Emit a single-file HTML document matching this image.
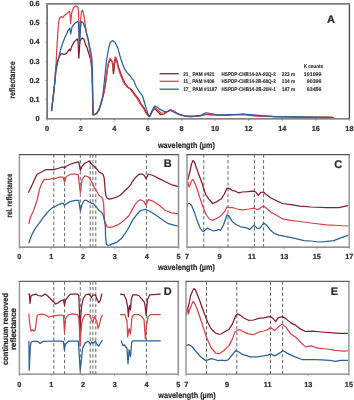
<!DOCTYPE html>
<html><head><meta charset="utf-8"><style>
html,body{margin:0;padding:0;background:#fff;}
svg{display:block;will-change:transform;}
text{font-family:"Liberation Sans",sans-serif;text-rendering:geometricPrecision;}
</style></head><body>
<svg width="354" height="400" viewBox="0 0 354 400">
<rect width="354" height="400" fill="#fff"/>
<text x="39.6" y="121.0" font-size="7.3" text-anchor="end" font-weight="bold" fill="#2e2e2e" stroke="#2e2e2e" stroke-width="0.22">0</text>
<line x1="44.6" y1="118.90" x2="46.4" y2="118.90" stroke="#bbb" stroke-width="0.8"/>
<text x="39.6" y="101.83333333333333" font-size="7.3" text-anchor="end" font-weight="bold" fill="#2e2e2e" stroke="#2e2e2e" stroke-width="0.22">0.1</text>
<line x1="44.6" y1="99.73" x2="46.4" y2="99.73" stroke="#bbb" stroke-width="0.8"/>
<text x="39.6" y="82.66666666666666" font-size="7.3" text-anchor="end" font-weight="bold" fill="#2e2e2e" stroke="#2e2e2e" stroke-width="0.22">0.2</text>
<line x1="44.6" y1="80.57" x2="46.4" y2="80.57" stroke="#bbb" stroke-width="0.8"/>
<text x="39.6" y="63.50000000000001" font-size="7.3" text-anchor="end" font-weight="bold" fill="#2e2e2e" stroke="#2e2e2e" stroke-width="0.22">0.3</text>
<line x1="44.6" y1="61.40" x2="46.4" y2="61.40" stroke="#bbb" stroke-width="0.8"/>
<text x="39.6" y="44.333333333333336" font-size="7.3" text-anchor="end" font-weight="bold" fill="#2e2e2e" stroke="#2e2e2e" stroke-width="0.22">0.4</text>
<line x1="44.6" y1="42.23" x2="46.4" y2="42.23" stroke="#bbb" stroke-width="0.8"/>
<text x="39.6" y="25.16666666666668" font-size="7.3" text-anchor="end" font-weight="bold" fill="#2e2e2e" stroke="#2e2e2e" stroke-width="0.22">0.5</text>
<line x1="44.6" y1="23.07" x2="46.4" y2="23.07" stroke="#bbb" stroke-width="0.8"/>
<text x="39.6" y="6.000000000000005" font-size="7.3" text-anchor="end" font-weight="bold" fill="#2e2e2e" stroke="#2e2e2e" stroke-width="0.22">0.6</text>
<line x1="44.6" y1="3.90" x2="46.4" y2="3.90" stroke="#bbb" stroke-width="0.8"/>
<text x="47.1" y="131.0" font-size="7.3" text-anchor="middle" font-weight="bold" fill="#2e2e2e" stroke="#2e2e2e" stroke-width="0.22">0</text>
<text x="80.68888888888888" y="131.0" font-size="7.3" text-anchor="middle" font-weight="bold" fill="#2e2e2e" stroke="#2e2e2e" stroke-width="0.22">2</text>
<text x="114.27777777777777" y="131.0" font-size="7.3" text-anchor="middle" font-weight="bold" fill="#2e2e2e" stroke="#2e2e2e" stroke-width="0.22">4</text>
<text x="147.86666666666665" y="131.0" font-size="7.3" text-anchor="middle" font-weight="bold" fill="#2e2e2e" stroke="#2e2e2e" stroke-width="0.22">6</text>
<text x="181.45555555555552" y="131.0" font-size="7.3" text-anchor="middle" font-weight="bold" fill="#2e2e2e" stroke="#2e2e2e" stroke-width="0.22">8</text>
<text x="215.04444444444442" y="131.0" font-size="7.3" text-anchor="middle" font-weight="bold" fill="#2e2e2e" stroke="#2e2e2e" stroke-width="0.22">10</text>
<text x="248.6333333333333" y="131.0" font-size="7.3" text-anchor="middle" font-weight="bold" fill="#2e2e2e" stroke="#2e2e2e" stroke-width="0.22">12</text>
<text x="282.2222222222222" y="131.0" font-size="7.3" text-anchor="middle" font-weight="bold" fill="#2e2e2e" stroke="#2e2e2e" stroke-width="0.22">14</text>
<text x="315.8111111111111" y="131.0" font-size="7.3" text-anchor="middle" font-weight="bold" fill="#2e2e2e" stroke="#2e2e2e" stroke-width="0.22">16</text>
<text x="349.4" y="131.0" font-size="7.3" text-anchor="middle" font-weight="bold" fill="#2e2e2e" stroke="#2e2e2e" stroke-width="0.22">18</text>
<text x="186.4" y="147.8" font-size="8.2" text-anchor="middle" font-weight="bold" fill="#2e2e2e" stroke="#2e2e2e" stroke-width="0.22" textLength="57.0" lengthAdjust="spacingAndGlyphs">wavelength (µm)</text>
<text x="14.6" y="80.0" font-size="8" text-anchor="middle" font-weight="bold" fill="#2e2e2e" stroke="#2e2e2e" stroke-width="0.22" textLength="37.5" lengthAdjust="spacingAndGlyphs" transform="rotate(-90 14.6 80.0)">reflectance</text>
<text x="331.0" y="23.0" font-size="11" text-anchor="middle" font-weight="bold" fill="#2e2e2e" stroke="#2e2e2e" stroke-width="0.22">A</text>
<line x1="53.8" y1="154.5" x2="53.8" y2="247.1" stroke="#5e5e5e" stroke-width="0.95" stroke-dasharray="3.3,2.3"/>
<line x1="64.6" y1="154.5" x2="64.6" y2="247.1" stroke="#5e5e5e" stroke-width="0.95" stroke-dasharray="3.3,2.3"/>
<line x1="80.3" y1="154.5" x2="80.3" y2="247.1" stroke="#5e5e5e" stroke-width="0.95" stroke-dasharray="3.3,2.3"/>
<line x1="90.2" y1="154.5" x2="90.2" y2="247.1" stroke="#5e5e5e" stroke-width="0.95" stroke-dasharray="3.3,2.3"/>
<line x1="92.9" y1="154.5" x2="92.9" y2="247.1" stroke="#5e5e5e" stroke-width="0.95" stroke-dasharray="3.3,2.3"/>
<line x1="95.8" y1="154.5" x2="95.8" y2="247.1" stroke="#5e5e5e" stroke-width="0.95" stroke-dasharray="3.3,2.3"/>
<line x1="146.4" y1="154.5" x2="146.4" y2="247.1" stroke="#5e5e5e" stroke-width="0.95" stroke-dasharray="3.3,2.3"/>
<line x1="203.8" y1="154.5" x2="203.8" y2="247.1" stroke="#5e5e5e" stroke-width="0.95" stroke-dasharray="3.3,2.3"/>
<line x1="228.0" y1="154.5" x2="228.0" y2="247.1" stroke="#5e5e5e" stroke-width="0.95" stroke-dasharray="3.3,2.3"/>
<line x1="254.4" y1="154.5" x2="254.4" y2="247.1" stroke="#5e5e5e" stroke-width="0.95" stroke-dasharray="3.3,2.3"/>
<line x1="263.6" y1="154.5" x2="263.6" y2="247.1" stroke="#5e5e5e" stroke-width="0.95" stroke-dasharray="3.3,2.3"/>
<line x1="53.8" y1="281.4" x2="53.8" y2="374.0" stroke="#5e5e5e" stroke-width="0.95" stroke-dasharray="3.3,2.3"/>
<line x1="64.6" y1="281.4" x2="64.6" y2="374.0" stroke="#5e5e5e" stroke-width="0.95" stroke-dasharray="3.3,2.3"/>
<line x1="80.3" y1="281.4" x2="80.3" y2="374.0" stroke="#5e5e5e" stroke-width="0.95" stroke-dasharray="3.3,2.3"/>
<line x1="90.2" y1="281.4" x2="90.2" y2="374.0" stroke="#5e5e5e" stroke-width="0.95" stroke-dasharray="3.3,2.3"/>
<line x1="92.9" y1="281.4" x2="92.9" y2="374.0" stroke="#5e5e5e" stroke-width="0.95" stroke-dasharray="3.3,2.3"/>
<line x1="95.8" y1="281.4" x2="95.8" y2="374.0" stroke="#5e5e5e" stroke-width="0.95" stroke-dasharray="3.3,2.3"/>
<line x1="146.4" y1="281.4" x2="146.4" y2="374.0" stroke="#5e5e5e" stroke-width="0.95" stroke-dasharray="3.3,2.3"/>
<line x1="206.5" y1="281.4" x2="206.5" y2="374.0" stroke="#5e5e5e" stroke-width="0.95" stroke-dasharray="3.3,2.3"/>
<line x1="236.8" y1="281.4" x2="236.8" y2="374.0" stroke="#5e5e5e" stroke-width="0.95" stroke-dasharray="3.3,2.3"/>
<line x1="270.5" y1="281.4" x2="270.5" y2="374.0" stroke="#5e5e5e" stroke-width="0.95" stroke-dasharray="3.3,2.3"/>
<line x1="282.6" y1="281.4" x2="282.6" y2="374.0" stroke="#5e5e5e" stroke-width="0.95" stroke-dasharray="3.3,2.3"/>
<polyline points="51.6,110.5 53.3,96.0 55.0,80.0 55.6,70.0 56.7,62.8 59.6,56.0 61.3,53.7 64.1,54.3 66.3,53.7 68.6,50.3 69.7,49.2 70.3,50.9 72.0,45.8 74.2,41.9 76.5,39.6 77.6,39.0 78.3,45.0 78.8,58.2 79.4,50.0 79.9,41.3 82.2,37.9 83.9,39.0 85.5,44.7 86.8,47.0 88.5,52.6 90.2,58.2 91.3,63.9 91.9,70.0 92.4,85.0 92.7,100.0 93.0,114.7 94.3,114.7 96.6,113.4 98.8,110.2 100.6,104.8 102.4,98.5 104.2,91.3 105.6,83.0 106.5,76.0 107.5,68.0 109.0,61.5 110.5,59.5 112.0,61.5 112.7,65.0 113.4,73.7 114.0,70.0 114.5,64.7 115.6,59.0 116.8,60.2 118.5,67.0 121.3,74.9 124.7,82.8 128.1,87.3 131.5,89.5 135.2,94.7 138.6,99.2 140.8,103.7 144.2,108.2 147.0,113.9 148.7,116.2 150.4,115.0 152.7,110.5 154.4,108.6 157.2,111.1 160.7,114.7 164.2,114.0 167.1,111.8 170.6,110.1 173.4,111.1 178.4,114.0 185.4,116.2 190.5,116.7 197.3,116.2 202.4,115.3 205.8,114.5 216.0,115.0 230.0,115.0 243.8,114.3 250.0,115.5 275.0,116.7 333.0,117.5" fill="none" stroke="#801f2a" stroke-width="1.25" stroke-linejoin="round" stroke-linecap="round"/>
<polyline points="51.6,110.5 53.3,96.0 55.0,80.0 55.6,70.0 56.2,62.8 56.7,50.0 57.4,40.0 58.0,30.0 58.7,22.5 59.6,18.0 60.6,16.8 61.5,16.7 62.7,17.3 64.0,16.0 65.7,14.6 67.5,13.0 68.8,11.6 69.6,11.5 70.2,16.0 70.6,23.8 71.2,17.0 71.9,12.0 73.6,7.4 75.4,5.9 77.1,6.8 78.0,7.5 78.6,12.0 79.0,30.0 79.3,40.0 79.8,34.0 80.5,20.0 81.5,12.0 82.4,10.1 83.2,12.0 84.1,16.9 85.2,24.7 86.4,32.6 87.5,37.0 88.5,40.0 90.2,55.0 91.3,63.0 92.0,70.0 92.4,85.0 92.7,100.0 93.0,114.7 94.3,114.7 96.6,113.4 98.8,110.2 100.6,104.8 102.4,98.5 104.2,91.3 105.6,83.0 106.5,76.0 107.5,68.0 109.0,61.0 110.0,58.5 111.7,60.5 112.5,62.0 113.4,68.0 114.0,64.0 115.1,57.0 116.5,58.5 117.5,65.5 120.3,74.6 123.7,82.5 127.1,87.0 130.5,89.3 134.2,94.5 137.6,99.0 139.8,103.4 143.2,108.0 146.2,113.5 148.7,116.0 150.4,114.5 152.7,110.0 154.9,107.5 157.2,109.5 160.7,112.8 164.2,113.0 167.0,111.5 170.2,109.8 173.6,111.1 178.6,114.5 185.4,116.2 190.5,116.7 197.3,116.2 202.4,115.3 205.8,114.0 210.8,114.8 216.0,115.0 220.0,115.3 230.0,115.0 243.8,114.3 250.0,115.5 260.0,116.3 275.0,116.7 290.0,117.0 310.0,117.3 325.0,117.0 333.0,117.3" fill="none" stroke="#d4424c" stroke-width="1.25" stroke-linejoin="round" stroke-linecap="round"/>
<polyline points="51.6,110.5 53.3,96.0 55.0,80.0 56.2,70.0 58.4,59.4 60.7,49.2 63.0,42.4 65.2,36.8 67.0,33.5 68.0,30.5 69.8,28.2 70.7,33.9 72.0,27.1 74.9,23.2 77.4,21.4 78.5,22.5 79.0,33.0 79.4,45.0 79.9,40.0 80.5,28.0 81.3,21.4 83.0,22.5 85.2,28.1 87.5,37.1 89.2,45.0 90.7,51.0 91.9,58.2 92.4,70.0 92.6,85.0 92.8,100.0 93.0,114.7 94.3,114.7 96.6,113.4 98.8,110.2 100.6,104.8 102.4,98.5 103.5,90.0 104.5,80.0 105.5,70.0 106.5,61.0 107.5,54.5 108.8,47.5 110.3,42.5 112.5,40.6 115.0,42.4 117.9,48.1 120.2,56.8 122.4,63.6 124.7,69.2 127.0,72.6 130.3,76.0 132.6,79.4 133.5,80.0 136.3,86.8 139.7,92.4 142.5,95.8 144.2,101.5 146.5,109.4 148.7,116.2 149.9,116.7 152.1,110.5 154.9,106.0 157.2,107.1 160.0,109.4 163.4,111.1 166.8,112.0 170.2,110.3 173.6,112.0 177.0,113.6 182.0,115.3 187.1,116.2 193.9,116.2 200.7,115.3 205.8,112.8 210.8,113.6 216.0,114.5 220.0,115.0 243.8,114.0 275.0,116.7 333.0,117.3" fill="none" stroke="#2a6196" stroke-width="1.25" stroke-linejoin="round" stroke-linecap="round"/>
<polyline points="28.6,192.3 31.4,186.6 34.3,179.9 37.1,174.2 41.6,172.0 46.1,169.5 49.5,169.5 54.0,169.7 59.5,168.0 62.9,166.9 64.6,168.0 66.3,166.3 70.8,164.0 75.3,162.7 78.7,161.8 80.4,170.3 82.1,166.3 84.4,163.5 87.8,161.8 89.1,161.0 90.8,163.6 93.6,165.8 97.0,169.2 99.0,172.0 101.3,173.1 103.0,174.2 104.1,177.6 104.7,184.4 105.3,192.0 106.0,196.0 107.0,198.0 109.2,199.1 112.6,198.3 117.0,197.0 120.5,195.0 122.6,193.0 125.0,190.5 128.1,187.8 130.4,185.2 132.3,181.8 135.3,177.7 138.8,174.4 142.1,174.0 144.4,175.5 146.0,178.6 148.3,174.0 153.0,175.5 159.2,178.6 165.4,181.7 171.6,184.8 177.8,186.4" fill="none" stroke="#801f2a" stroke-width="1.25" stroke-linejoin="round" stroke-linecap="round"/>
<polyline points="28.9,223.5 30.5,217.0 33.7,210.3 37.1,200.2 39.3,190.0 41.6,183.8 44.4,179.3 48.4,179.3 52.9,178.7 55.0,178.7 59.5,177.0 62.9,177.0 64.6,182.1 66.3,176.5 70.8,174.2 75.3,174.2 78.2,174.8 80.4,193.0 82.1,179.3 84.9,175.9 87.8,176.5 90.0,178.7 92.3,183.2 94.5,187.8 96.8,191.5 99.0,195.2 101.3,196.9 102.4,198.0 103.6,203.1 104.1,213.2 104.5,220.0 105.3,222.5 107.0,226.9 110.3,227.4 112.6,226.8 118.2,224.7 123.9,220.4 127.0,217.5 129.5,214.8 132.4,209.1 134.5,205.5 137.4,201.5 140.5,199.7 143.6,201.2 146.0,205.1 148.3,199.7 153.0,201.2 159.2,205.3 165.4,210.5 171.6,212.9 177.8,213.8" fill="none" stroke="#d4424c" stroke-width="1.25" stroke-linejoin="round" stroke-linecap="round"/>
<polyline points="28.9,243.0 30.3,238.7 32.6,233.1 36.0,227.4 39.9,222.3 42.7,218.2 47.2,212.6 51.8,208.1 55.0,206.5 59.5,204.2 62.9,203.1 64.6,205.3 66.3,203.6 70.8,201.4 75.3,200.3 78.7,200.3 80.4,211.0 82.1,204.2 84.4,200.3 86.6,200.3 88.9,202.0 90.0,202.0 91.5,203.5 93.4,203.6 96.8,207.6 99.0,210.4 101.3,212.1 103.0,214.4 104.1,218.9 104.7,222.0 105.3,226.3 105.6,237.6 106.4,244.4 108.1,245.5 110.3,244.9 111.2,244.4 116.8,242.3 121.1,238.8 125.3,233.1 127.0,230.5 128.8,227.5 132.4,220.4 136.6,214.8 140.5,210.5 145.2,209.3 149.8,211.3 156.1,215.2 162.3,219.8 168.5,223.7 174.7,225.3 177.8,226.0" fill="none" stroke="#2a6196" stroke-width="1.25" stroke-linejoin="round" stroke-linecap="round"/>
<polyline points="187.5,180.0 188.5,177.0 190.0,171.0 191.5,164.0 193.0,160.5 194.5,162.0 196.5,168.0 199.0,175.0 202.0,183.0 204.5,191.0 205.8,194.5 208.6,198.8 212.8,203.5 217.1,201.6 221.3,198.8 224.1,194.5 227.0,188.2 229.8,188.9 232.0,190.3 235.4,191.2 238.8,192.9 242.2,192.0 247.3,191.7 253.2,191.2 255.7,192.0 258.3,195.4 260.8,192.4 263.4,192.0 266.5,194.8 268.0,195.8 270.5,197.8 275.6,200.3 282.4,203.5 290.8,204.6 300.0,206.2 310.9,207.0 326.2,207.7 338.9,207.7 347.8,205.7" fill="none" stroke="#801f2a" stroke-width="1.25" stroke-linejoin="round" stroke-linecap="round"/>
<polyline points="187.5,185.0 188.0,182.0 189.0,187.0 190.0,185.0 191.5,181.0 192.5,179.5 194.0,181.0 196.0,186.0 198.0,192.0 200.1,198.5 203.0,207.0 205.8,214.0 209.3,219.0 212.8,220.4 217.1,218.2 221.3,215.4 224.8,211.2 227.0,207.0 229.8,207.7 232.0,207.3 237.1,209.0 242.2,209.8 249.0,209.0 254.0,208.1 257.4,209.8 263.4,205.9 267.1,208.8 270.5,212.0 275.6,214.7 282.4,218.8 290.8,220.3 300.0,221.5 310.9,223.0 326.2,224.8 338.9,225.5 347.8,226.0" fill="none" stroke="#d4424c" stroke-width="1.25" stroke-linejoin="round" stroke-linecap="round"/>
<polyline points="187.4,206.0 187.8,204.0 189.5,203.4 191.6,205.5 194.5,212.6 197.3,221.1 200.1,228.1 203.0,231.7 205.1,230.3 207.2,228.1 210.0,229.5 213.5,231.0 216.4,230.3 218.5,229.5 220.6,230.3 223.4,225.3 227.0,214.7 229.1,216.1 231.9,221.1 235.4,224.2 240.5,226.8 245.6,227.6 249.8,229.3 254.0,225.1 257.4,228.5 260.0,228.1 263.7,223.0 266.3,224.9 269.7,229.2 273.9,233.4 279.0,235.1 287.5,236.8 296.0,238.6 304.0,240.6 311.0,241.0 318.1,242.0 325.2,241.6 333.7,240.6 340.7,237.8 347.8,235.4" fill="none" stroke="#2a6196" stroke-width="1.25" stroke-linejoin="round" stroke-linecap="round"/>
<polyline points="28.7,294.1 29.4,294.0 30.0,303.5 30.6,298.0 31.2,295.5 33.1,294.8 36.0,294.1 38.1,295.5 41.6,296.2 45.1,294.1 47.2,295.5 51.5,299.8 55.7,304.0 58.5,302.6 61.4,300.5 63.5,299.8 64.5,305.4 65.6,299.8 68.5,296.2 70.2,294.2 77.6,294.2 78.8,295.3 79.4,312.0 79.9,336.0 80.5,320.0 81.6,306.0 83.3,298.4 86.1,294.5 89.0,294.1 90.4,295.5 91.4,297.7 92.5,295.5 95.3,294.8 96.7,298.4 98.8,302.6 100.3,300.5 101.7,294.1" fill="none" stroke="#801f2a" stroke-width="1.25" stroke-linejoin="round" stroke-linecap="round"/>
<polyline points="120.6,294.1 124.2,294.8 126.3,299.8 127.7,306.8 128.4,316.7 129.1,308.2 129.8,305.4 130.5,310.0 131.2,299.8 132.7,294.8 136.2,294.8 139.0,295.5 141.1,298.4 142.5,299.8 144.7,302.6 146.1,315.3 147.5,299.8 149.6,294.8 160.2,294.1" fill="none" stroke="#801f2a" stroke-width="1.25" stroke-linejoin="round" stroke-linecap="round"/>
<polyline points="28.9,314.2 29.6,322.7 31.0,331.2 32.4,329.8 33.8,331.2 35.2,329.8 36.7,318.5 37.4,315.0 41.6,314.2 45.8,315.0 48.7,317.1 51.5,316.4 55.7,315.6 61.4,315.0 63.5,315.6 64.5,332.6 65.6,318.5 68.5,314.6 72.7,313.9 77.6,314.6 78.8,318.0 79.5,330.0 80.0,346.0 80.8,334.0 81.8,323.0 83.0,318.1 85.4,314.6 89.7,314.6 91.4,319.5 92.8,322.4 94.6,316.7 96.7,321.0 98.1,328.5 98.8,326.6 101.0,318.1 102.4,315.3" fill="none" stroke="#d4424c" stroke-width="1.25" stroke-linejoin="round" stroke-linecap="round"/>
<polyline points="120.6,314.6 124.9,314.6 127.0,321.0 127.7,337.0 129.1,328.5 130.5,334.1 132.0,316.7 134.1,314.6 139.0,314.6 141.8,316.7 144.0,319.5 145.4,339.0 146.5,325.0 148.2,316.7 150.3,314.6 160.2,314.6" fill="none" stroke="#d4424c" stroke-width="1.25" stroke-linejoin="round" stroke-linecap="round"/>
<polyline points="28.9,341.3 29.2,370.3 30.3,347.0 31.0,342.7 32.4,341.3 37.4,341.3 40.2,343.4 43.0,341.3 54.3,341.0 61.4,341.1 63.5,341.9 64.3,349.8 65.6,344.0 68.5,341.2 78.4,341.2 80.2,371.0 82.6,348.2 85.4,342.6 88.2,341.2 90.4,344.0 91.8,341.9 93.2,343.3 95.3,341.2 97.4,344.7 98.8,346.1 100.3,343.3 102.1,340.5" fill="none" stroke="#2a6196" stroke-width="1.25" stroke-linejoin="round" stroke-linecap="round"/>
<polyline points="121.4,341.2 122.8,345.4 124.2,344.7 125.6,346.8 127.0,348.2 128.0,363.8 129.1,349.7 130.5,356.7 131.7,342.6 132.7,340.9 160.2,340.9" fill="none" stroke="#2a6196" stroke-width="1.25" stroke-linejoin="round" stroke-linecap="round"/>
<polyline points="186.5,313.0 187.5,309.0 189.0,304.0 190.5,296.0 192.5,291.0 194.0,288.5 195.5,290.0 197.5,295.0 200.0,301.5 203.0,310.0 206.0,318.0 208.0,322.8 210.4,327.5 212.5,330.3 215.5,333.0 218.5,334.3 221.0,334.0 224.8,331.8 229.1,329.2 232.5,323.8 235.8,315.6 237.5,313.9 240.9,315.6 243.4,317.8 248.5,320.3 253.6,320.0 258.6,318.3 263.7,317.8 268.0,316.9 270.5,316.6 273.1,318.6 275.6,321.7 278.1,317.8 282.4,316.6 285.8,318.6 290.8,322.9 295.9,325.4 300.3,328.9 305.5,331.5 312.5,331.2 321.3,332.0 330.0,332.7 338.8,333.3 347.5,333.3" fill="none" stroke="#801f2a" stroke-width="1.25" stroke-linejoin="round" stroke-linecap="round"/>
<polyline points="186.5,315.0 187.0,310.0 188.0,309.0 188.5,314.0 189.5,310.0 191.5,305.0 193.0,301.5 194.5,303.0 196.5,307.5 198.5,313.0 200.5,319.0 203.6,328.5 207.0,338.6 211.3,348.0 215.5,353.0 218.9,353.9 224.0,350.5 229.1,345.4 232.5,338.6 235.0,331.9 237.5,330.2 240.0,329.7 244.2,332.2 248.5,333.9 253.6,334.7 258.6,332.2 263.7,331.0 268.0,329.7 270.5,327.6 274.7,330.5 278.1,327.1 282.4,324.1 285.8,327.1 290.8,333.9 295.9,337.3 300.3,342.0 305.5,346.9 310.8,345.9 317.8,348.2 326.5,349.0 335.3,350.4 344.0,351.1 347.5,350.8" fill="none" stroke="#d4424c" stroke-width="1.25" stroke-linejoin="round" stroke-linecap="round"/>
<polyline points="186.5,345.5 188.4,344.6 191.8,346.3 195.2,350.5 200.3,356.4 205.3,360.3 207.9,359.8 211.3,358.6 214.7,359.5 218.1,360.7 221.4,360.2 224.8,360.7 228.2,359.8 231.6,355.6 235.8,350.5 239.2,352.2 242.6,354.7 245.1,355.1 250.2,356.8 256.9,356.8 263.7,355.9 268.0,355.1 270.5,353.9 274.7,355.9 279.0,353.4 283.2,350.8 287.5,353.4 292.5,355.9 295.0,356.9 302.0,359.5 312.5,359.5 321.3,359.9 330.0,360.4 335.3,361.3 340.5,360.4 347.5,360.4" fill="none" stroke="#2a6196" stroke-width="1.25" stroke-linejoin="round" stroke-linecap="round"/>
<line x1="159.6" y1="73.7" x2="178.7" y2="73.7" stroke="#801f2a" stroke-width="1.3"/>
<line x1="159.6" y1="81.3" x2="178.7" y2="81.3" stroke="#d4424c" stroke-width="1.3"/>
<line x1="159.6" y1="89.2" x2="178.7" y2="89.2" stroke="#2a6196" stroke-width="1.3"/>
<text x="183.2" y="75.60000000000001" font-size="5.3" text-anchor="start" font-weight="bold" fill="#2e2e2e" stroke="#2e2e2e" stroke-width="0.12" textLength="31.3" lengthAdjust="spacingAndGlyphs">21_ PAM #421</text>
<text x="221.5" y="75.60000000000001" font-size="5.3" text-anchor="start" font-weight="bold" fill="#2e2e2e" stroke="#2e2e2e" stroke-width="0.12" textLength="54.3" lengthAdjust="spacingAndGlyphs">HSPDP-CHB14-2A-93Q-2</text>
<text x="281.8" y="75.60000000000001" font-size="5.3" text-anchor="start" font-weight="bold" fill="#2e2e2e" stroke="#2e2e2e" stroke-width="0.12" textLength="13.4" lengthAdjust="spacingAndGlyphs">223 m</text>
<text x="321.5" y="75.60000000000001" font-size="5.3" text-anchor="end" font-weight="bold" fill="#2e2e2e" stroke="#2e2e2e" stroke-width="0.12">101099</text>
<text x="183.2" y="83.2" font-size="5.3" text-anchor="start" font-weight="bold" fill="#2e2e2e" stroke="#2e2e2e" stroke-width="0.12" textLength="31.3" lengthAdjust="spacingAndGlyphs">11_ PAM #406</text>
<text x="221.5" y="83.2" font-size="5.3" text-anchor="start" font-weight="bold" fill="#2e2e2e" stroke="#2e2e2e" stroke-width="0.12" textLength="54.3" lengthAdjust="spacingAndGlyphs">HSPDP-CHB14-2B-68Q-2</text>
<text x="281.8" y="83.2" font-size="5.3" text-anchor="start" font-weight="bold" fill="#2e2e2e" stroke="#2e2e2e" stroke-width="0.12" textLength="13.4" lengthAdjust="spacingAndGlyphs">134 m</text>
<text x="321.5" y="83.2" font-size="5.3" text-anchor="end" font-weight="bold" fill="#2e2e2e" stroke="#2e2e2e" stroke-width="0.12">90396</text>
<text x="183.2" y="90.80000000000001" font-size="5.3" text-anchor="start" font-weight="bold" fill="#2e2e2e" stroke="#2e2e2e" stroke-width="0.12" textLength="34.0" lengthAdjust="spacingAndGlyphs">17_ PAM #1187</text>
<text x="221.5" y="90.80000000000001" font-size="5.3" text-anchor="start" font-weight="bold" fill="#2e2e2e" stroke="#2e2e2e" stroke-width="0.12" textLength="54.3" lengthAdjust="spacingAndGlyphs">HSPDP-CHB14-2B-20H-1</text>
<text x="281.8" y="90.80000000000001" font-size="5.3" text-anchor="start" font-weight="bold" fill="#2e2e2e" stroke="#2e2e2e" stroke-width="0.12" textLength="13.4" lengthAdjust="spacingAndGlyphs">187 m</text>
<text x="321.5" y="90.80000000000001" font-size="5.3" text-anchor="end" font-weight="bold" fill="#2e2e2e" stroke="#2e2e2e" stroke-width="0.12">63456</text>
<text x="313.4" y="67.9" font-size="5.3" text-anchor="middle" font-weight="bold" fill="#2e2e2e" stroke="#2e2e2e" stroke-width="0.12" textLength="19.5" lengthAdjust="spacingAndGlyphs">K counts</text>
<text x="19.4" y="259.0" font-size="7.3" text-anchor="middle" font-weight="bold" fill="#2e2e2e" stroke="#2e2e2e" stroke-width="0.22">0</text>
<text x="51.22" y="259.0" font-size="7.3" text-anchor="middle" font-weight="bold" fill="#2e2e2e" stroke="#2e2e2e" stroke-width="0.22">1</text>
<text x="83.03999999999999" y="259.0" font-size="7.3" text-anchor="middle" font-weight="bold" fill="#2e2e2e" stroke="#2e2e2e" stroke-width="0.22">2</text>
<text x="114.85999999999999" y="259.0" font-size="7.3" text-anchor="middle" font-weight="bold" fill="#2e2e2e" stroke="#2e2e2e" stroke-width="0.22">3</text>
<text x="146.68" y="259.0" font-size="7.3" text-anchor="middle" font-weight="bold" fill="#2e2e2e" stroke="#2e2e2e" stroke-width="0.22">4</text>
<text x="178.5" y="259.0" font-size="7.3" text-anchor="middle" font-weight="bold" fill="#2e2e2e" stroke="#2e2e2e" stroke-width="0.22">5</text>
<text x="187.0" y="259.0" font-size="7.3" text-anchor="middle" font-weight="bold" fill="#2e2e2e" stroke="#2e2e2e" stroke-width="0.22">7</text>
<text x="219.44" y="259.0" font-size="7.3" text-anchor="middle" font-weight="bold" fill="#2e2e2e" stroke="#2e2e2e" stroke-width="0.22">9</text>
<text x="251.88" y="259.0" font-size="7.3" text-anchor="middle" font-weight="bold" fill="#2e2e2e" stroke="#2e2e2e" stroke-width="0.22">11</text>
<text x="284.32" y="259.0" font-size="7.3" text-anchor="middle" font-weight="bold" fill="#2e2e2e" stroke="#2e2e2e" stroke-width="0.22">13</text>
<text x="316.76" y="259.0" font-size="7.3" text-anchor="middle" font-weight="bold" fill="#2e2e2e" stroke="#2e2e2e" stroke-width="0.22">15</text>
<text x="349.2" y="259.0" font-size="7.3" text-anchor="middle" font-weight="bold" fill="#2e2e2e" stroke="#2e2e2e" stroke-width="0.22">17</text>
<text x="186.4" y="269.8" font-size="8.2" text-anchor="middle" font-weight="bold" fill="#2e2e2e" stroke="#2e2e2e" stroke-width="0.22" textLength="57.0" lengthAdjust="spacingAndGlyphs">wavelength (µm)</text>
<text x="12.0" y="195.5" font-size="8" text-anchor="middle" font-weight="bold" fill="#2e2e2e" stroke="#2e2e2e" stroke-width="0.22" textLength="44" lengthAdjust="spacingAndGlyphs" transform="rotate(-90 12.0 195.5)">rel. reflectance</text>
<text x="167.7" y="167.0" font-size="11" text-anchor="middle" font-weight="bold" fill="#2e2e2e" stroke="#2e2e2e" stroke-width="0.22">B</text>
<text x="338.3" y="167.5" font-size="11" text-anchor="middle" font-weight="bold" fill="#2e2e2e" stroke="#2e2e2e" stroke-width="0.22">C</text>
<text x="19.4" y="387.0" font-size="7.3" text-anchor="middle" font-weight="bold" fill="#2e2e2e" stroke="#2e2e2e" stroke-width="0.22">0</text>
<text x="51.18" y="387.0" font-size="7.3" text-anchor="middle" font-weight="bold" fill="#2e2e2e" stroke="#2e2e2e" stroke-width="0.22">1</text>
<text x="82.96000000000001" y="387.0" font-size="7.3" text-anchor="middle" font-weight="bold" fill="#2e2e2e" stroke="#2e2e2e" stroke-width="0.22">2</text>
<text x="114.74000000000001" y="387.0" font-size="7.3" text-anchor="middle" font-weight="bold" fill="#2e2e2e" stroke="#2e2e2e" stroke-width="0.22">3</text>
<text x="146.52" y="387.0" font-size="7.3" text-anchor="middle" font-weight="bold" fill="#2e2e2e" stroke="#2e2e2e" stroke-width="0.22">4</text>
<text x="178.3" y="387.0" font-size="7.3" text-anchor="middle" font-weight="bold" fill="#2e2e2e" stroke="#2e2e2e" stroke-width="0.22">5</text>
<text x="186.3" y="387.0" font-size="7.3" text-anchor="middle" font-weight="bold" fill="#2e2e2e" stroke="#2e2e2e" stroke-width="0.22">7</text>
<text x="226.95" y="387.0" font-size="7.3" text-anchor="middle" font-weight="bold" fill="#2e2e2e" stroke="#2e2e2e" stroke-width="0.22">9</text>
<text x="267.6" y="387.0" font-size="7.3" text-anchor="middle" font-weight="bold" fill="#2e2e2e" stroke="#2e2e2e" stroke-width="0.22">11</text>
<text x="308.25" y="387.0" font-size="7.3" text-anchor="middle" font-weight="bold" fill="#2e2e2e" stroke="#2e2e2e" stroke-width="0.22">13</text>
<text x="348.9" y="387.0" font-size="7.3" text-anchor="middle" font-weight="bold" fill="#2e2e2e" stroke="#2e2e2e" stroke-width="0.22">15</text>
<text x="187.0" y="398.0" font-size="8.2" text-anchor="middle" font-weight="bold" fill="#2e2e2e" stroke="#2e2e2e" stroke-width="0.22" textLength="57.6" lengthAdjust="spacingAndGlyphs">wavelength (µm)</text>
<text x="8.0" y="329.0" font-size="8" text-anchor="middle" font-weight="bold" fill="#2e2e2e" stroke="#2e2e2e" stroke-width="0.22" textLength="72" lengthAdjust="spacingAndGlyphs" transform="rotate(-90 8.0 329.0)">continuum removed</text>
<text x="16.0" y="329.0" font-size="8" text-anchor="middle" font-weight="bold" fill="#2e2e2e" stroke="#2e2e2e" stroke-width="0.22" textLength="42" lengthAdjust="spacingAndGlyphs" transform="rotate(-90 16.0 329.0)">reflectance</text>
<text x="167.7" y="294.5" font-size="11" text-anchor="middle" font-weight="bold" fill="#2e2e2e" stroke="#2e2e2e" stroke-width="0.22">D</text>
<text x="334.4" y="295.2" font-size="11" text-anchor="middle" font-weight="bold" fill="#2e2e2e" stroke="#2e2e2e" stroke-width="0.22">E</text>
<line x1="47.1" y1="118.9" x2="47.1" y2="121.10000000000001" stroke="#999" stroke-width="0.8"/>
<line x1="80.7" y1="118.9" x2="80.7" y2="121.10000000000001" stroke="#999" stroke-width="0.8"/>
<line x1="114.3" y1="118.9" x2="114.3" y2="121.10000000000001" stroke="#999" stroke-width="0.8"/>
<line x1="147.9" y1="118.9" x2="147.9" y2="121.10000000000001" stroke="#999" stroke-width="0.8"/>
<line x1="181.5" y1="118.9" x2="181.5" y2="121.10000000000001" stroke="#999" stroke-width="0.8"/>
<line x1="215.0" y1="118.9" x2="215.0" y2="121.10000000000001" stroke="#999" stroke-width="0.8"/>
<line x1="248.6" y1="118.9" x2="248.6" y2="121.10000000000001" stroke="#999" stroke-width="0.8"/>
<line x1="282.2" y1="118.9" x2="282.2" y2="121.10000000000001" stroke="#999" stroke-width="0.8"/>
<line x1="315.8" y1="118.9" x2="315.8" y2="121.10000000000001" stroke="#999" stroke-width="0.8"/>
<line x1="349.4" y1="118.9" x2="349.4" y2="121.10000000000001" stroke="#999" stroke-width="0.8"/>
<line x1="19.4" y1="247.1" x2="19.4" y2="249.29999999999998" stroke="#999" stroke-width="0.8"/>
<line x1="51.2" y1="247.1" x2="51.2" y2="249.29999999999998" stroke="#999" stroke-width="0.8"/>
<line x1="83.0" y1="247.1" x2="83.0" y2="249.29999999999998" stroke="#999" stroke-width="0.8"/>
<line x1="114.9" y1="247.1" x2="114.9" y2="249.29999999999998" stroke="#999" stroke-width="0.8"/>
<line x1="146.7" y1="247.1" x2="146.7" y2="249.29999999999998" stroke="#999" stroke-width="0.8"/>
<line x1="178.5" y1="247.1" x2="178.5" y2="249.29999999999998" stroke="#999" stroke-width="0.8"/>
<line x1="187.0" y1="247.1" x2="187.0" y2="249.29999999999998" stroke="#999" stroke-width="0.8"/>
<line x1="219.4" y1="247.1" x2="219.4" y2="249.29999999999998" stroke="#999" stroke-width="0.8"/>
<line x1="251.9" y1="247.1" x2="251.9" y2="249.29999999999998" stroke="#999" stroke-width="0.8"/>
<line x1="284.3" y1="247.1" x2="284.3" y2="249.29999999999998" stroke="#999" stroke-width="0.8"/>
<line x1="316.8" y1="247.1" x2="316.8" y2="249.29999999999998" stroke="#999" stroke-width="0.8"/>
<line x1="349.2" y1="247.1" x2="349.2" y2="249.29999999999998" stroke="#999" stroke-width="0.8"/>
<line x1="19.4" y1="374.0" x2="19.4" y2="376.2" stroke="#999" stroke-width="0.8"/>
<line x1="51.2" y1="374.0" x2="51.2" y2="376.2" stroke="#999" stroke-width="0.8"/>
<line x1="83.0" y1="374.0" x2="83.0" y2="376.2" stroke="#999" stroke-width="0.8"/>
<line x1="114.7" y1="374.0" x2="114.7" y2="376.2" stroke="#999" stroke-width="0.8"/>
<line x1="146.5" y1="374.0" x2="146.5" y2="376.2" stroke="#999" stroke-width="0.8"/>
<line x1="178.3" y1="374.0" x2="178.3" y2="376.2" stroke="#999" stroke-width="0.8"/>
<line x1="186.0" y1="374.0" x2="186.0" y2="376.2" stroke="#999" stroke-width="0.8"/>
<line x1="226.7" y1="374.0" x2="226.7" y2="376.2" stroke="#999" stroke-width="0.8"/>
<line x1="267.4" y1="374.0" x2="267.4" y2="376.2" stroke="#999" stroke-width="0.8"/>
<line x1="308.2" y1="374.0" x2="308.2" y2="376.2" stroke="#999" stroke-width="0.8"/>
<line x1="348.9" y1="374.0" x2="348.9" y2="376.2" stroke="#999" stroke-width="0.8"/>
<line x1="46.43" y1="3.9" x2="350.07" y2="3.9" stroke="#4a4a4a" stroke-width="1.35"/>
<line x1="46.43" y1="118.9" x2="350.07" y2="118.9" stroke="#5a5a5a" stroke-width="1.35"/>
<line x1="47.1" y1="4.58" x2="47.1" y2="118.23" stroke="#4a4a4a" stroke-width="1.35"/>
<line x1="349.4" y1="4.58" x2="349.4" y2="118.23" stroke="#4a4a4a" stroke-width="1.35"/>
<line x1="18.65" y1="154.5" x2="179.25" y2="154.5" stroke="#555" stroke-width="1.25"/>
<line x1="18.65" y1="247.1" x2="179.25" y2="247.1" stroke="#6e6e6e" stroke-width="1.25"/>
<line x1="19.4" y1="155.12" x2="19.4" y2="246.47" stroke="#9a9a9a" stroke-width="1.5"/>
<line x1="178.5" y1="155.12" x2="178.5" y2="246.47" stroke="#8c8c8c" stroke-width="1.5"/>
<line x1="186.25" y1="154.5" x2="349.95" y2="154.5" stroke="#555" stroke-width="1.25"/>
<line x1="186.25" y1="247.1" x2="349.95" y2="247.1" stroke="#6e6e6e" stroke-width="1.25"/>
<line x1="187.0" y1="155.12" x2="187.0" y2="246.47" stroke="#999" stroke-width="1.5"/>
<line x1="349.2" y1="155.12" x2="349.2" y2="246.47" stroke="#999" stroke-width="1.5"/>
<line x1="18.65" y1="281.4" x2="179.05" y2="281.4" stroke="#626262" stroke-width="1.25"/>
<line x1="18.65" y1="374.0" x2="179.05" y2="374.0" stroke="#7e7e7e" stroke-width="1.25"/>
<line x1="19.4" y1="282.02" x2="19.4" y2="373.38" stroke="#9a9a9a" stroke-width="1.5"/>
<line x1="178.3" y1="282.02" x2="178.3" y2="373.38" stroke="#8c8c8c" stroke-width="1.5"/>
<line x1="185.25" y1="281.4" x2="349.65" y2="281.4" stroke="#626262" stroke-width="1.25"/>
<line x1="185.25" y1="374.0" x2="349.65" y2="374.0" stroke="#7e7e7e" stroke-width="1.25"/>
<line x1="186.0" y1="282.02" x2="186.0" y2="373.38" stroke="#999" stroke-width="1.5"/>
<line x1="348.9" y1="282.02" x2="348.9" y2="373.38" stroke="#999" stroke-width="1.5"/>
</svg>
</body></html>
